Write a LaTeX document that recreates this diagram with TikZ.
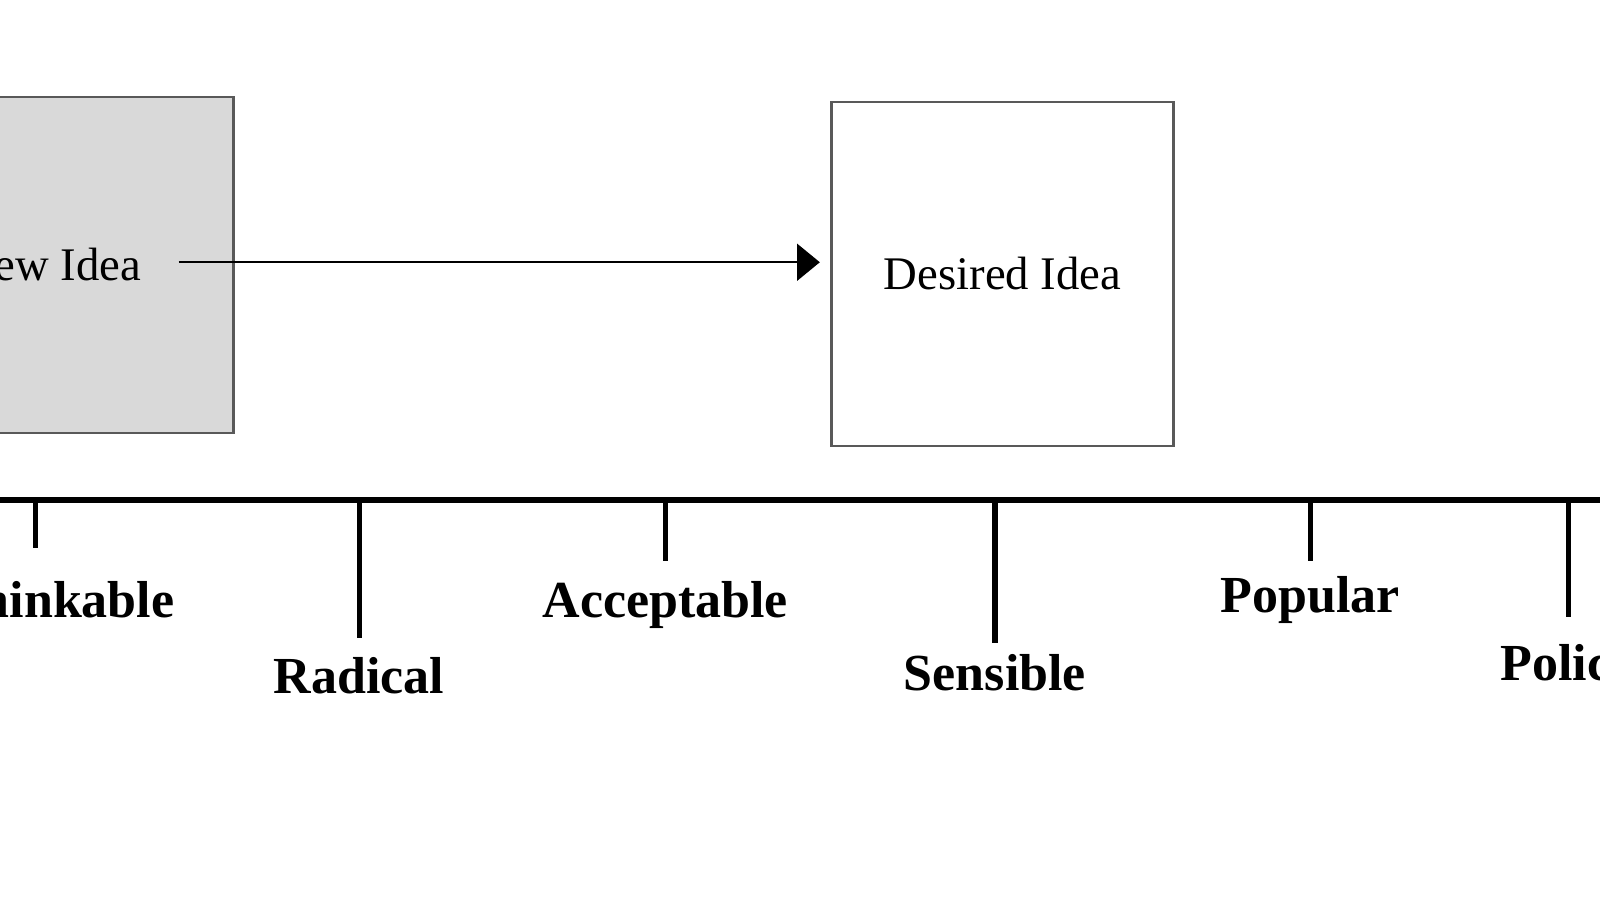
\documentclass[tikz,border=0pt]{standalone}
\usepackage{fontspec}
\setmainfont{Liberation Serif}
\usepackage{tikz}
\usetikzlibrary{arrows.meta}
\usetikzlibrary{positioning}

\begin{document}
\begin{tikzpicture}[x=0.010204cm,y=-0.010204cm,-,semithick]
 				 \tikzstyle{idea}=[draw=black!65, line width=0.7pt, inner sep=0pt, font=\fontsize{13.3}{15}\selectfont]
 				 \tikzstyle{stage}=[anchor=base, inner sep=0pt, font=\fontsize{14.8}{17}\selectfont\bfseries]
 				 \tikzstyle{axis}=[line width=1.5pt]
			\clip (0,0) rectangle (1568,882);
			\node[idea, fill=black!15, minimum width=3.65cm, minimum height=3.36cm]  (new) at (50,259.5) {New Idea};
			\node[idea, fill=white, minimum width=3.42cm, minimum height=3.44cm]  (des) at (982.5,268.5) {Desired Idea};
			\coordinate (s) at (175,257);
			\draw[-{Triangle[length=6.5pt,width=10.5pt]}, line width=0.7pt, shorten >=3pt] (s) -- (s -| des.west);

			\coordinate (a0) at (0,490);
			\coordinate (a1) at (1568,490);
			\draw[axis] (a0) -- (a1);
		 		 \foreach \x/\l/\b/\t/\n in {35/47/605/Unthinkable/u, 352/135/680/Radical/r, 652/60/605/Acceptable/a, 975/140/677/Sensible/s, 1284/60/600/Popular/p, 1537/115/667/Policy/q}{
		 			\coordinate (t\n) at (\x,490);
		 			\node[stage] (l\n) at (\x,\b) {\t};
		 			\draw[axis] (t\n) -- ++(0,\l);
		 			}
 	\end{tikzpicture}
\end{document}
